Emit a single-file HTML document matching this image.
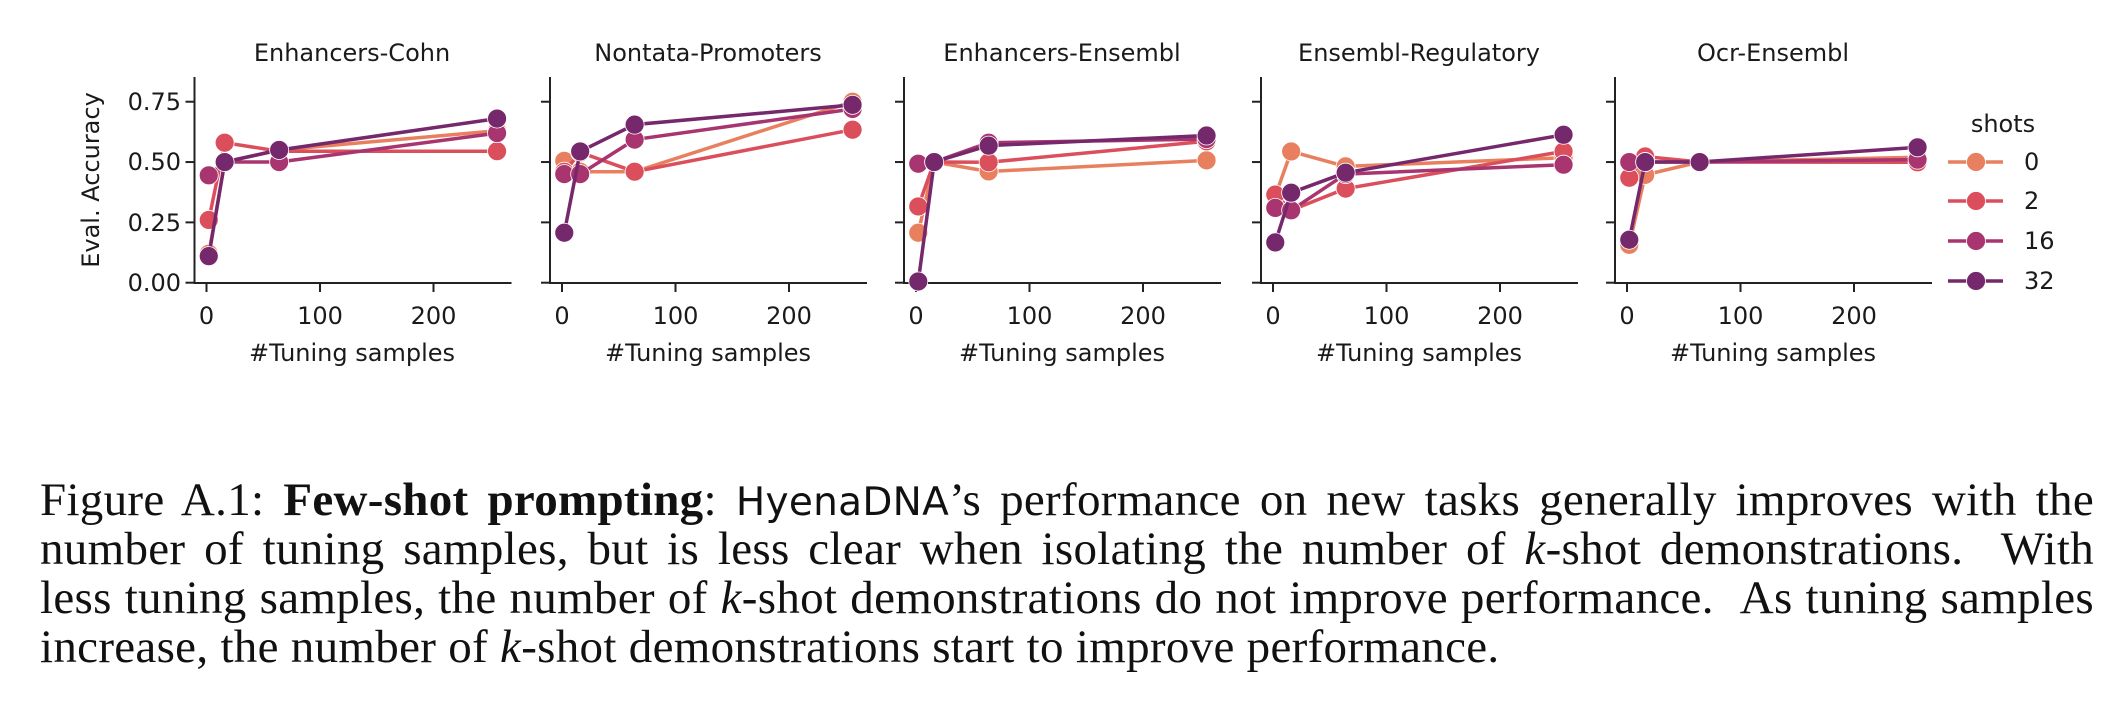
<!DOCTYPE html>
<html><head><meta charset="utf-8">
<style>
html,body{margin:0;padding:0;background:#fff;}
body{width:2122px;height:714px;position:relative;overflow:hidden;}
svg{position:absolute;left:0;top:0;}
text{font-family:"DejaVu Sans","Liberation Sans",sans-serif;font-size:24px;fill:#1a1a1a;}
.cap{position:absolute;left:40px;width:2054px;font-family:"Liberation Serif",serif;font-size:47px;letter-spacing:0.3px;line-height:49px;color:#111;white-space:nowrap;}
.j{text-align:justify;text-align-last:justify;}
.sf{font-family:"DejaVu Sans","Liberation Sans",sans-serif;font-size:39px;}
</style></head><body>
<svg id="s" width="2122" height="714" viewBox="0 0 2122 714">
<g id="axes" stroke="#222" stroke-width="2" fill="none"></g>
<g id="data"></g>
<g text-anchor="middle">
<text x="352" y="61">Enhancers-Cohn</text>
<text x="708" y="61">Nontata-Promoters</text>
<text x="1062" y="61">Enhancers-Ensembl</text>
<text x="1419" y="61">Ensembl-Regulatory</text>
<text x="1773" y="61">Ocr-Ensembl</text>
</g>
<g text-anchor="end">
<text x="181" y="110">0.75</text>
<text x="181" y="170">0.50</text>
<text x="181" y="231">0.25</text>
<text x="181" y="291">0.00</text>
</g>
<text transform="translate(99,180) rotate(-90)" text-anchor="middle">Eval. Accuracy</text>
<g text-anchor="middle">
<text x="206.5" y="324">0</text><text x="320" y="324">100</text><text x="433.5" y="324">200</text>
<text x="562" y="324">0</text><text x="675.5" y="324">100</text><text x="789" y="324">200</text>
<text x="916" y="324">0</text><text x="1029.5" y="324">100</text><text x="1143" y="324">200</text>
<text x="1273" y="324">0</text><text x="1386.5" y="324">100</text><text x="1500" y="324">200</text>
<text x="1627" y="324">0</text><text x="1740.5" y="324">100</text><text x="1854" y="324">200</text>
<text x="352" y="361">#Tuning samples</text>
<text x="708" y="361">#Tuning samples</text>
<text x="1062" y="361">#Tuning samples</text>
<text x="1419" y="361">#Tuning samples</text>
<text x="1773" y="361">#Tuning samples</text>
<text x="2003" y="132">shots</text>
</g>
<g id="leg"></g>
<text x="2024" y="170">0</text>
<text x="2024" y="209">2</text>
<text x="2024" y="249">16</text>
<text x="2024" y="289">32</text>
</svg>
<div class="cap j" style="top:476px;">Figure A.1: <b>Few-shot prompting</b>: <span class="sf">HyenaDNA</span>’s performance on new tasks generally improves with the</div>
<div class="cap j" style="top:525px;">number of tuning samples, but is less clear when isolating the number of <i>k</i>-shot demonstrations. &nbsp;With</div>
<div class="cap j" style="top:574px;">less tuning samples, the number of <i>k</i>-shot demonstrations do not improve performance. &nbsp;As tuning samples</div>
<div class="cap" style="top:623px;">increase, the number of <i>k</i>-shot demonstrations start to improve performance.</div>
<script>
(function(){
var NS="http://www.w3.org/2000/svg";
var cols=["#e8805f","#db4f5d","#a8356f","#76286c"];
var lefts=[194.5,550,904,1261,1615];
var xs=[2,16,64,256];
var D=[
 [[0.12,0.50,0.55,0.63],[0.26,0.58,0.545,0.545],[0.445,0.50,0.50,0.62],[0.11,0.50,0.55,0.68]],
 [[0.505,0.46,0.46,0.75],[0.46,0.54,0.46,0.634],[0.45,0.45,0.593,0.72],[0.207,0.544,0.655,0.737]],
 [[0.207,0.50,0.461,0.507],[0.316,0.50,0.499,0.586],[0.493,0.50,0.58,0.595],[0.005,0.50,0.568,0.61]],
 [[0.36,0.544,0.482,0.518],[0.365,0.30,0.39,0.544],[0.31,0.30,0.45,0.489],[0.167,0.373,0.456,0.613]],
 [[0.157,0.447,0.50,0.52],[0.435,0.523,0.50,0.499],[0.50,0.50,0.50,0.51],[0.178,0.50,0.50,0.561]]
];
function Y(v){return 282.7-241.3*v;}
function el(t,a,p){var e=document.createElementNS(NS,t);for(var k in a)e.setAttribute(k,a[k]);p.appendChild(e);return e;}
var ax=document.getElementById("axes"),dg=document.getElementById("data"),lg=document.getElementById("leg");
lefts.forEach(function(L,pi){
 el("line",{x1:L,y1:77,x2:L,y2:283},ax);
 el("line",{x1:L-1,y1:283,x2:L+317,y2:283},ax);
 [0,0.25,0.5,0.75].forEach(function(v){el("line",{x1:L-9,y1:Y(v),x2:L,y2:Y(v)},ax);});
 [0,100,200].forEach(function(x){var px=L+12+1.135*x;el("line",{x1:px,y1:283,x2:px,y2:292},ax);});
 D[pi].forEach(function(ser,si){
  var pts=ser.map(function(v,i){return (L+12+1.135*xs[i]).toFixed(1)+","+Y(v).toFixed(1);});
  el("polyline",{points:pts.join(" "),fill:"none",stroke:cols[si],"stroke-width":3.5,"stroke-linejoin":"round"},dg);
  ser.forEach(function(v,i){el("circle",{cx:L+12+1.135*xs[i],cy:Y(v),r:9.5,fill:cols[si],stroke:"#fff","stroke-width":0.8},dg);});
 });
});
[162,201,241,281].forEach(function(y,i){
 el("line",{x1:1948,y1:y,x2:2003,y2:y,stroke:cols[i],"stroke-width":3.5},lg);
 el("circle",{cx:1976,cy:y,r:9.5,fill:cols[i],stroke:"#fff","stroke-width":0.8},lg);
});
})();
</script>
</body></html>
